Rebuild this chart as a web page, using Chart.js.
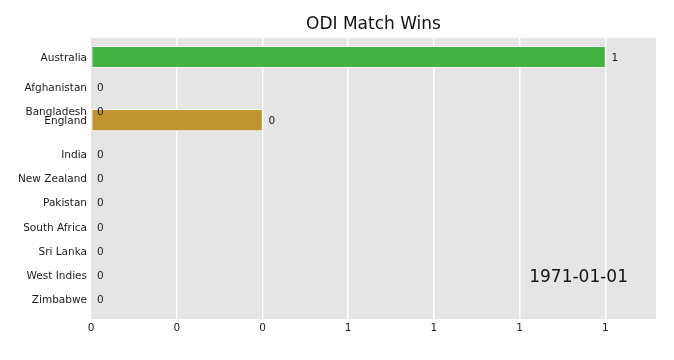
<!DOCTYPE html>
<html>
<head>
<meta charset="utf-8">
<script src="https://cdn.jsdelivr.net/npm/chart.js@4/dist/chart.umd.min.js"></script>
<style>
  html, body { margin: 0; padding: 0; background: #fff; }
  #wrap { width: 674px; height: 360px; }
</style>
</head>
<body>
<div id="wrap"><canvas id="chart"></canvas></div>
<script>
// datos del fotograma (carrera de barras, valores interpolados)
const teams = ["Australia", "Afghanistan", "Bangladesh", "England", "India", "New Zealand",
  "Pakistan", "South Africa", "Sri Lanka", "West Indies", "Zimbabwe"];
const wins = [1.2, 0, 0, 0.4, 0, 0, 0, 0, 0, 0, 0];
const ranks = [-0.05, 1.19, 2.18, 2.57, 3.97, 4.97, 5.96, 6.99, 7.99, 9.0, 10.0];
const teamColors = ["#43b343", "#3d7ab8", "#2e8b57", "#c0952e", "#6c8ebf", "#333333",
  "#1f6e3a", "#2f9a5a", "#2a5fa8", "#8b1e3f", "#d44a2f"];
const xTicks = [0, 0.2, 0.4, 0.6, 0.8, 1.0, 1.2];
const dateLabel = "1971-01-01";
const chartTitle = "ODI Match Wins";

const font = "DejaVu Sans";

// fondo gris del área de trazado, título, fecha y etiquetas de valor
const decor = {
  id: "decor",
  beforeDraw(chart) {
    const { ctx, chartArea: a } = chart;
    ctx.save();
    ctx.fillStyle = "#e5e5e5";
    ctx.fillRect(a.left, a.top, a.right - a.left, a.bottom - a.top);
    ctx.restore();
  },
  afterDatasetsDraw(chart) {
    const { ctx, chartArea: a } = chart;
    ctx.save();
    ctx.fillStyle = "#111";
    ctx.font = "17px '" + font + "'";
    ctx.textAlign = "center";
    ctx.textBaseline = "middle";
    ctx.fillText(chartTitle, (a.left + a.right) / 2, 25);

    ctx.font = "17px '" + font + "'";
    ctx.textAlign = "right";
    ctx.fillText(dateLabel, 628, 278);

    // etiquetas de valor al final de cada barra
    const meta = chart.getDatasetMeta(0);
    ctx.font = "10.5px '" + font + "'";
    ctx.textAlign = "left";
    ctx.fillStyle = "#1a1a1a";
    meta.data.forEach((bar, i) => {
      ctx.fillText(String(Math.round(wins[i] - 1e-9)), bar.x + 6, bar.y + 1.5);
    });
    ctx.restore();
  }
};

new Chart(document.getElementById("chart"), {
  type: "bar",
  data: {
    datasets: [{
      data: teams.map((t, i) => ({ x: wins[i], y: ranks[i] })),
      backgroundColor: teamColors,
      borderColor: "rgba(255,255,255,0.6)",
      borderWidth: 1,
      borderSkipped: false,
      barThickness: 21.5
    }]
  },
  options: {
    indexAxis: "y",
    responsive: true,
    maintainAspectRatio: false,
    animation: false,
    layout: { padding: { top: 38, right: 18, left: 0, bottom: 0 } },
    plugins: {
      legend: { display: false },
      tooltip: { enabled: false },
      title: { display: false }
    },
    scales: {
      x: {
        type: "linear",
        min: 0,
        max: 1.318,
        afterBuildTicks: (scale) => { scale.ticks = xTicks.map(v => ({ value: v })); },
        afterFit: (scale) => { scale.height = 41; },
        border: { display: false },
        grid: {
          color: (c) => (c.tick && c.tick.value === 0 ? "rgba(0,0,0,0)" : "#ffffff"),
          lineWidth: 1.5,
          drawTicks: false
        },
        ticks: {
          color: "#1a1a1a",
          font: { family: font, size: 10.5 },
          padding: 3,
          maxRotation: 0,
          autoSkip: false,
          callback: (v) => String(Math.round(v - 1e-9))
        }
      },
      y: {
        type: "linear",
        reverse: true,
        offset: false,
        min: -0.84,
        max: 10.83,
        afterBuildTicks: (scale) => { scale.ticks = ranks.map(v => ({ value: v })); },
        afterFit: (scale) => { scale.width = 91; },
        border: { display: false },
        grid: { display: false, drawTicks: false },
        ticks: {
          color: "#1a1a1a",
          font: { family: font, size: 10.5 },
          padding: 4,
          labelOffset: 1.5,
          autoSkip: false,
          callback: (v, i) => teams[i]
        }
      }
    }
  },
  plugins: [decor]
});
</script>
</body>
</html>
